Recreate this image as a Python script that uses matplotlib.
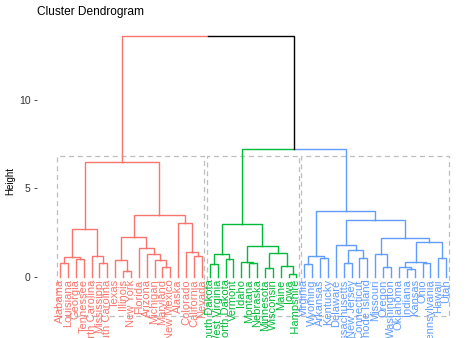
import matplotlib.pyplot as plt

plt.rcParams['font.family'] = ['Liberation Sans', 'DejaVu Sans']

# leaves in plotting order, left to right
leaf_labels = [
    "Alabama", "Louisiana", "Georgia", "Tennessee", "North Carolina",
    "Mississippi", "South Carolina", "Texas", "Illinois", "New York",
    "Florida", "Arizona", "Michigan", "Maryland", "New Mexico",
    "Alaska", "Colorado", "California", "Nevada",
    "South Dakota", "West Virginia", "North Dakota", "Vermont", "Idaho",
    "Montana", "Nebraska", "Minnesota", "Wisconsin", "Maine", "Iowa",
    "New Hampshire",
    "Virginia", "Wyoming", "Arkansas", "Kentucky", "Delaware",
    "Massachusetts", "New Jersey", "Connecticut", "Rhode Island",
    "Missouri", "Oregon", "Washington", "Oklahoma", "Indiana", "Kansas",
    "Ohio", "Pennsylvania", "Hawaii", "Utah",
]
leaf_cluster = [0] * 19 + [1] * 12 + [2] * 19
cluster_colors = ["#F8766D", "#00BA38", "#619CFF"]

# merges: a string is a leaf, an int refers to an earlier merge
merge_pairs = [
    ("Alabama", "Louisiana"), ("Georgia", "Tennessee"), (0, 1),
    ("Mississippi", "South Carolina"), ("North Carolina", 3), (2, 4),
    ("Illinois", "New York"), ("Texas", 6), ("Maryland", "New Mexico"),
    ("Michigan", 8), ("Arizona", 9), ("Florida", 10), (7, 11),
    ("California", "Nevada"), ("Colorado", 13), ("Alaska", 14), (12, 15),
    (5, 16),
    ("South Dakota", "West Virginia"), ("North Dakota", "Vermont"), (18, 19),
    ("Montana", "Nebraska"), ("Idaho", 21), ("Minnesota", "Wisconsin"),
    ("Iowa", "New Hampshire"), ("Maine", 24), (23, 25), (22, 26), (20, 27),
    ("Virginia", "Wyoming"), ("Arkansas", "Kentucky"), (29, 30),
    ("Massachusetts", "New Jersey"), ("Connecticut", "Rhode Island"),
    (32, 33), ("Delaware", 34), ("Oregon", "Washington"), ("Missouri", 36),
    ("Indiana", "Kansas"), ("Oklahoma", 38), ("Ohio", "Pennsylvania"),
    (39, 40), ("Hawaii", "Utah"), (41, 42), (37, 43), (35, 44), (31, 45),
    (28, 46), (17, 47),
]
merge_heights = [
    0.76, 0.98, 1.10, 0.76, 1.17, 2.70,
    0.34, 0.94, 0.53, 0.94, 1.30, 1.63, 2.23,
    1.17, 1.38, 3.02, 3.49, 6.50,
    0.70, 0.98, 1.28, 0.76, 0.85, 0.47, 0.13, 0.60, 1.32, 1.74, 2.98,
    0.70, 1.06, 1.15, 0.76, 1.06, 1.53, 1.81, 0.57, 1.27,
    0.42, 0.57, 0.76, 0.84, 1.08, 1.95, 2.17, 3.21, 3.73,
    7.22, 13.63,
]

rect_top = 6.84
rect_bottom = -2.22

fig = plt.figure(figsize=(4.74, 3.38), dpi=100)
ax = fig.add_axes([37 / 474, 0, 433 / 474, 313 / 338])


def node_info(ref, nodes):
    if isinstance(ref, str):
        i = leaf_labels.index(ref)
        return i + 1, 0.0, leaf_cluster[i]
    return nodes[ref]


nodes = []
for (a, b), h in zip(merge_pairs, merge_heights):
    kids = [node_info(a, nodes), node_info(b, nodes)]
    x = (kids[0][0] + kids[1][0]) / 2
    for cx, ch, cl in kids:
        col = cluster_colors[cl] if cl is not None else "black"
        ax.plot([x, cx, cx], [h, h, ch], color=col, lw=1.0,
                solid_joinstyle="miter", zorder=3)
    cl = kids[0][2] if kids[0][2] == kids[1][2] else None
    nodes.append((x, h, cl))

# leaf labels, rotated and hanging below the leaves
for i, name in enumerate(leaf_labels):
    ax.text(i + 1, -0.15, name, rotation=90, ha="center", va="top",
            fontsize=8, color=cluster_colors[leaf_cluster[i]])

# dashed boxes around the three clusters
for k in range(3):
    idx = [i + 1 for i, c in enumerate(leaf_cluster) if c == k]
    x0, x1 = idx[0] - 0.4, idx[-1] + 0.3
    ax.plot([x0, x1, x1, x0, x0],
            [rect_bottom, rect_bottom, rect_top, rect_top, rect_bottom],
            color="#BEBEBE", lw=0.9, linestyle=(0, (4, 3)), zorder=2)

ax.set_xlim(-1.918, 53.02)
ax.set_ylim(-3.47, 14.24)
ax.set_xticks([])
ax.set_yticks([0, 5, 10])
ax.tick_params(axis="y", length=2.5, width=0.6, color="#333333",
               labelcolor="#333333", labelsize=7.5, pad=2)
for s in ax.spines.values():
    s.set_visible(False)

fig.text(37 / 474, 1 - 12 / 338, "Cluster Dendrogram", fontsize=8.6,
         ha="left", va="center")
fig.text(10 / 474, 1 - 181 / 338, "Height", fontsize=7, rotation=90,
         ha="center", va="center")

fig.savefig("out.png", dpi=100)
